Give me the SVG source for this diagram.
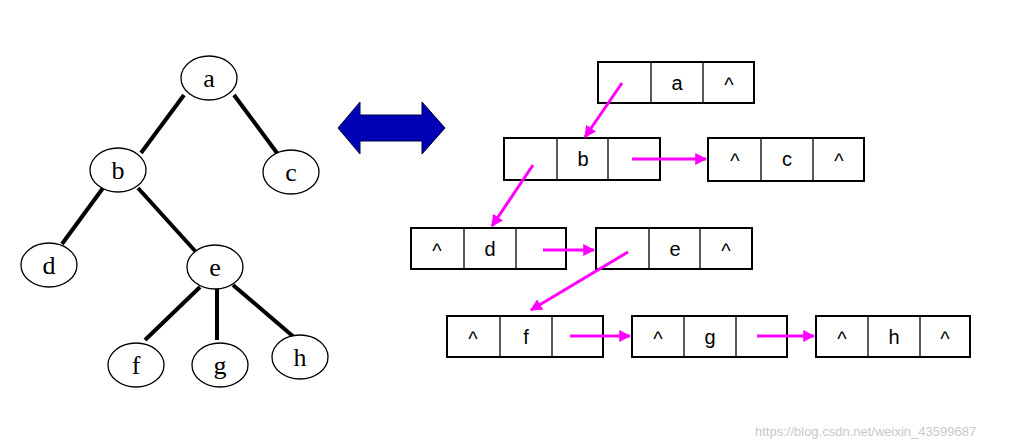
<svg xmlns="http://www.w3.org/2000/svg" width="1036" height="447" viewBox="0 0 1036 447">
<style>
.n ellipse{fill:#fff;stroke:#000;stroke-width:1.3}
.n text{font-family:"Liberation Serif",serif;font-size:26px;fill:#000;text-anchor:middle}
.t line{stroke:#000;stroke-width:4}
.r rect{fill:#fff;stroke:#000;stroke-width:2}
.r line{stroke:#000;stroke-width:1.3}
.r text{font-family:"Liberation Sans",sans-serif;font-size:20px;text-anchor:middle}
.p line{stroke:#f0f;stroke-width:3;marker-end:url(#m)}
</style>
<defs><marker id="m" viewBox="0 0 10 10" refX="9" refY="5" markerWidth="4" markerHeight="4" orient="auto" markerUnits="strokeWidth"><path d="M0,0L10,5L0,10z" fill="#f0f"/></marker></defs>
<rect width="1036" height="447" fill="#fff"/>
<g id="edges" class="t">
<line x1="184" y1="95" x2="141" y2="153"/><line x1="234" y1="95" x2="277" y2="153"/>
<line x1="103" y1="188" x2="62" y2="244"/><line x1="138" y1="188" x2="196" y2="252"/>
<line x1="200" y1="287" x2="145" y2="340"/><line x1="217" y1="288" x2="217" y2="340"/>
<line x1="233" y1="285" x2="295" y2="338"/>
</g>
<g id="a" class="n"><ellipse cx="209" cy="78" rx="28" ry="22"/><text x="209" y="87">a</text></g>
<g id="b" class="n"><ellipse cx="118" cy="170" rx="28" ry="22"/><text x="118" y="179">b</text></g>
<g id="c" class="n"><ellipse cx="291" cy="172" rx="28" ry="22"/><text x="291" y="181">c</text></g>
<g id="d" class="n"><ellipse cx="49" cy="265" rx="28" ry="22"/><text x="49" y="274">d</text></g>
<g id="e" class="n"><ellipse cx="215" cy="267" rx="28" ry="22"/><text x="215" y="276">e</text></g>
<g id="f" class="n"><ellipse cx="136" cy="365" rx="28" ry="22"/><text x="136" y="374">f</text></g>
<g id="g" class="n"><ellipse cx="220" cy="365" rx="28" ry="22"/><text x="220" y="374">g</text></g>
<g id="h" class="n"><ellipse cx="300" cy="357" rx="28" ry="22"/><text x="300" y="366">h</text></g>
<path id="dbl" d="M338,128L360,102L360,115L422,115L422,102L445,128L422,154L422,141L360,141L360,154Z" fill="#0000b4" stroke="#000040" stroke-width="1"/>
<g id="ra" class="r"><rect x="598" y="62" width="156" height="41"/><line x1="651" y1="62" x2="651" y2="103"/><line x1="703" y1="62" x2="703" y2="103"/><text x="677" y="90">a</text><text x="729" y="92">^</text></g>
<g id="rb" class="r"><rect x="504" y="138" width="156" height="42"/><line x1="557" y1="138" x2="557" y2="180"/><line x1="608" y1="138" x2="608" y2="180"/><text x="583" y="166">b</text></g>
<g id="rc" class="r"><rect x="708" y="138" width="156" height="43"/><line x1="761" y1="138" x2="761" y2="181"/><line x1="813" y1="138" x2="813" y2="181"/><text x="735" y="168">^</text><text x="787" y="166">c</text><text x="839" y="168">^</text></g>
<g id="rd" class="r"><rect x="411" y="228" width="155" height="41"/><line x1="464" y1="228" x2="464" y2="269"/><line x1="516" y1="228" x2="516" y2="269"/><text x="437" y="258">^</text><text x="490" y="256">d</text></g>
<g id="re" class="r"><rect x="596" y="228" width="156" height="41"/><line x1="649" y1="228" x2="649" y2="269"/><line x1="700" y1="228" x2="700" y2="269"/><text x="675" y="256">e</text><text x="726" y="258">^</text></g>
<g id="rf" class="r"><rect x="447" y="316" width="156" height="41"/><line x1="500" y1="316" x2="500" y2="357"/><line x1="552" y1="316" x2="552" y2="357"/><text x="473" y="346">^</text><text x="526" y="344">f</text></g>
<g id="rg" class="r"><rect x="632" y="316" width="155" height="41"/><line x1="684" y1="316" x2="684" y2="357"/><line x1="736" y1="316" x2="736" y2="357"/><text x="658" y="346">^</text><text x="710" y="344">g</text></g>
<g id="rh" class="r"><rect x="816" y="316" width="154" height="41"/><line x1="868" y1="316" x2="868" y2="357"/><line x1="920" y1="316" x2="920" y2="357"/><text x="842" y="346">^</text><text x="894" y="344">h</text><text x="945" y="346">^</text></g>
<g id="connectors" class="p">
<line x1="622" y1="83" x2="585" y2="137"/><line x1="632" y1="159" x2="706" y2="159"/>
<line x1="533" y1="165" x2="492" y2="226"/><line x1="543" y1="250" x2="594" y2="250"/>
<line x1="628" y1="252" x2="531" y2="310"/><line x1="570" y1="336" x2="630" y2="336"/>
<line x1="757" y1="336" x2="814" y2="336"/>
</g>
<text x="755" y="436" font-family="Liberation Sans,sans-serif" font-size="13" fill="#c8c8c8">https://blog.csdn.net/weixin_43599687</text>
</svg>
